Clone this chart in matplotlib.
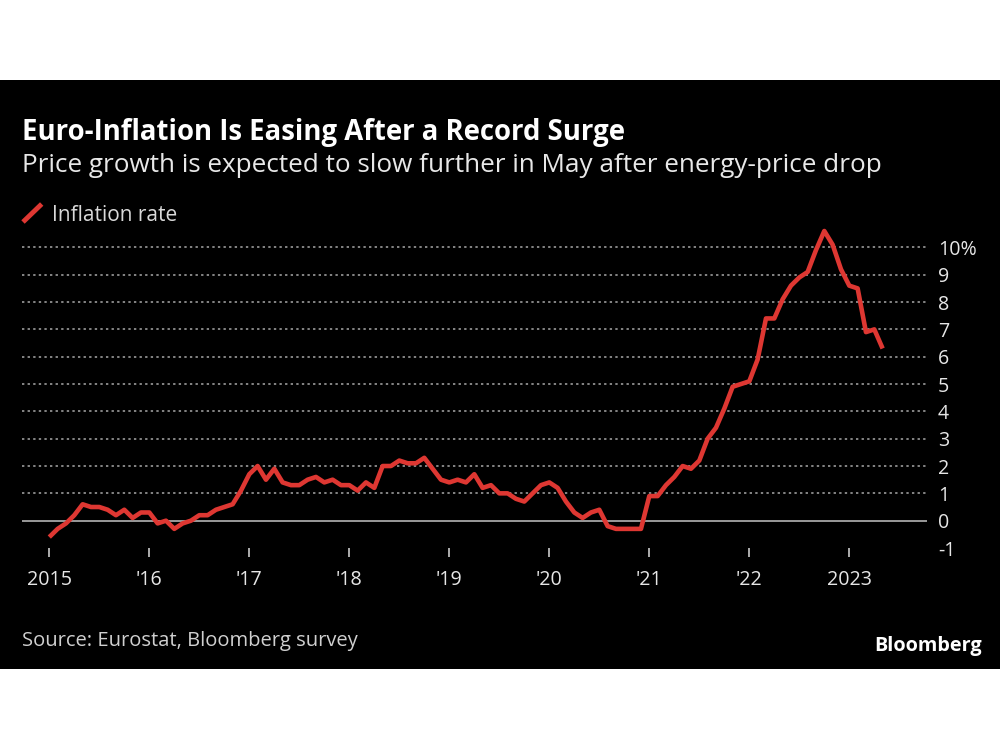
import matplotlib
matplotlib.use('Agg')
import matplotlib.pyplot as plt
from matplotlib import font_manager
from matplotlib.patches import Rectangle
from matplotlib.lines import Line2D
import numpy as np

# ---------------- data ----------------
infl_2015 = [-0.6, -0.3, -0.1, 0.2, 0.6, 0.5, 0.5, 0.4, 0.2, 0.4, 0.1, 0.3]
infl_2016 = [0.3, -0.1, 0.0, -0.3, -0.1, 0.0, 0.2, 0.2, 0.4, 0.5, 0.6, 1.1]
infl_2017 = [1.7, 2.0, 1.5, 1.9, 1.4, 1.3, 1.3, 1.5, 1.6, 1.4, 1.5, 1.3]
infl_2018 = [1.3, 1.1, 1.4, 1.2, 2.0, 2.0, 2.2, 2.1, 2.1, 2.3, 1.9, 1.5]
infl_2019 = [1.4, 1.5, 1.4, 1.7, 1.2, 1.3, 1.0, 1.0, 0.8, 0.7, 1.0, 1.3]
infl_2020 = [1.4, 1.2, 0.7, 0.3, 0.1, 0.3, 0.4, -0.2, -0.3, -0.3, -0.3, -0.3]
infl_2021 = [0.9, 0.9, 1.3, 1.6, 2.0, 1.9, 2.2, 3.0, 3.4, 4.1, 4.9, 5.0]
infl_2022 = [5.1, 5.9, 7.4, 7.4, 8.1, 8.6, 8.9, 9.1, 9.9, 10.6, 10.1, 9.2]
infl_2023 = [8.6, 8.5, 6.9, 7.0, 6.3]
start_year = 2015

x_tick_years = [2015, 2016, 2017, 2018, 2019, 2020, 2021, 2022, 2023]
x_tick_labels = ['2015', "'16", "'17", "'18", "'19", "'20", "'21", "'22", '2023']
y_ticks = [-1, 0, 1, 2, 3, 4, 5, 6, 7, 8, 9, 10]
y_tick_labels = ['-1', '0', '1', '2', '3', '4', '5', '6', '7', '8', '9', '10%']

title = 'Euro-Inflation Is Easing After a Record Surge'
subtitle = 'Price growth is expected to slow further in May after energy-price drop'
legend_label = 'Inflation rate'
source = 'Source: Eurostat, Bloomberg survey'
brand = 'Bloomberg'

inflation = (infl_2015 + infl_2016 + infl_2017 + infl_2018 + infl_2019 +
             infl_2020 + infl_2021 + infl_2022 + infl_2023)
months = start_year + np.arange(len(inflation)) / 12.0

# ---------------- fonts ----------------
available = {f.name for f in font_manager.fontManager.ttflist}
def pick(*names):
    for n in names:
        if n in available:
            return n
    return 'DejaVu Sans'
FONT = pick('Liberation Sans Narrow', 'Open Sans', 'Noto Sans', 'Lato')
plt.rcParams['font.family'] = [FONT, 'DejaVu Sans']

RED = '#de3732'
W, H = 1000, 750

fig = plt.figure(figsize=(10, 7.5), dpi=100)
fig.patch.set_facecolor('white')
fig.patches.append(Rectangle((0, (H - 669) / H), 1, (669 - 80) / H,
                             transform=fig.transFigure, facecolor='black',
                             edgecolor='none', zorder=-10))

# axes: x 22..927 px, y from -1 (548 px) to 10.9
ax_left, ax_right = 22, 927
y_bot_px, y_top_px = 548.0, 222.8
ax = fig.add_axes([ax_left / W, (H - y_bot_px) / H,
                   (ax_right - ax_left) / W, (y_bot_px - y_top_px) / H])
ax.set_zorder(1)
ax.set_facecolor('black')
ax.set_xlim(2015 - 27.3 / 100, 2015 + 877.7 / 100)
ax.set_ylim(-1, 10.9)

for v in y_ticks:
    if v == 0:
        ax.axhline(v, color='#9a9a9a', lw=1.4, zorder=1)
    elif v > 0:
        ax.axhline(v, color='#909090', lw=1.3, linestyle=(0, (1.3, 1.8)), zorder=1)

ax.plot(months, inflation, color=RED, lw=3.3, solid_joinstyle='round',
        solid_capstyle='butt', zorder=3)

for s in ax.spines.values():
    s.set_visible(False)

ax.set_xticks(x_tick_years)
ax.set_xticklabels(x_tick_labels)
ax.set_yticks(y_ticks)
ax.set_yticklabels(y_tick_labels)
ax.yaxis.tick_right()
ax.tick_params(axis='x', length=6.5, width=1.1, color='#dddddd', direction='out',
               pad=9, labelcolor='#e6e6e6', labelsize=16)
ax.tick_params(axis='y', length=0, pad=7.9, labelcolor='#e6e6e6', labelsize=16)
for lab in ax.get_yticklabels():
    lab.set_horizontalalignment('left')

# ---------------- texts ----------------
def fy(px):
    return (H - px) / H

t_title = fig.text(22 / W, fy(140), title, color='white', fontsize=22,
                   fontweight='bold', va='baseline', ha='left')
t_sub = fig.text(22 / W, fy(172), subtitle, color='#e8e8e8', fontsize=20,
                 va='baseline', ha='left')
t_leg = fig.text(51.7 / W, fy(220.7), legend_label, color='#d9d9d9', fontsize=16,
                 va='baseline', ha='left')
t_src = fig.text(22 / W, fy(646), source, color='#d0d0d0', fontsize=16,
                 va='baseline', ha='left')
t_brand = fig.text(982 / W, fy(651), brand, color='white', fontsize=16,
                   fontweight='bold', va='baseline', ha='right')

fig.lines.append(Line2D([23 / W, 41.7 / W], [fy(222), fy(204)],
                        transform=fig.transFigure, color=RED, lw=3.5,
                        solid_capstyle='butt'))

fig.canvas.draw()
r = fig.canvas.get_renderer()
def fit(t, target):
    w = t.get_window_extent(r).width
    t.set_fontsize(t.get_fontsize() * target / w)

fit(t_title, 600)
fit(t_sub, 860)
fit(t_leg, 126)
fit(t_src, 336)
fit(t_brand, 108)

xl = ax.get_xticklabels()[0]
wx = xl.get_window_extent(r).width
ax.tick_params(axis='both', labelsize=16 * 45 / wx)

fig.savefig('out.png', dpi=100, facecolor=fig.get_facecolor())
